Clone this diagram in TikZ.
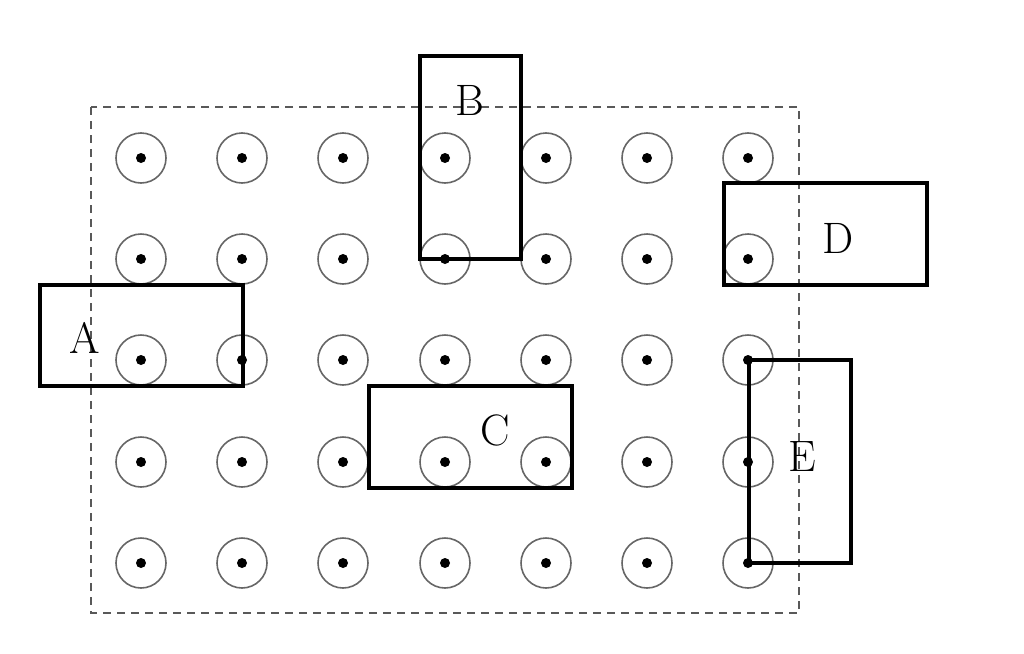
\documentclass[tikz,border=0pt]{standalone}
\begin{document}
\begin{tikzpicture}[x=1pt,y=-1pt,
  ring/.style={circle,draw=black!60,line width=1.6pt,minimum size=50pt,inner sep=0pt},
  dot/.style={circle,fill=black,minimum size=10pt,inner sep=0pt},
  box/.style={draw=black,line width=4pt},
  lab/.style={font=\fontsize{44}{44}\selectfont,text=black,draw=none}]
\useasboundingbox (0,0) rectangle (1024,653);
\draw[black!65,line width=1.5pt,dash pattern=on 8pt off 6pt] (91,107) rectangle (799,613);
\foreach \i/\x in {1/141,2/242,3/343,4/445,5/546,6/647,7/748}
  \foreach \j/\y in {1/158,2/259,3/360,4/462,5/563} {
    \node[ring] (r\i\j) at (\x,\y) {};
    \node[dot] (d\i\j) at (\x,\y) {};
  }
\draw[box] (40,285) rectangle (243,386);
\draw[box] (420,56) rectangle (521,259);
\draw[box] (369,386) rectangle (572,488);
\draw[box] (724,183) rectangle (927,285);
\draw[box] (749,360) rectangle (851,563);
\node[lab] (A) at (85,338) {A};
\node[lab] (B) at (470,100) {B};
\node[lab] (C) at (495,430) {C};
\node[lab] (D) at (838,238) {D};
\node[lab] (E) at (802,457) {E};
\end{tikzpicture}
\end{document}
